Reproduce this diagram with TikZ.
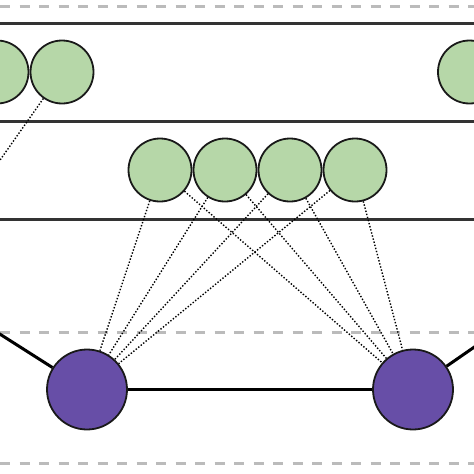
\documentclass[tikz,border=0pt]{standalone}
\usetikzlibrary{calc}
\definecolor{leafgreen}{HTML}{B6D7A8}
\definecolor{rootpurple}{HTML}{674EA7}
\definecolor{dashgray}{HTML}{BBBBBB}
\begin{document}
\begin{tikzpicture}[x=1pt,y=-1pt,
  leaf/.style={circle,draw=black!90,line width=1.8pt,fill=leafgreen,minimum size=63pt,inner sep=0pt},
  root/.style={circle,draw=black!90,line width=1.8pt,fill=rootpurple,minimum size=80pt,inner sep=0pt},
  layer/.style={draw=black!80,line width=3pt},
  sep/.style={draw=dashgray,line width=3pt,dash pattern=on 10pt off 9.5pt},
  link/.style={draw=black,line width=1.4pt,dash pattern=on 1.4pt off 1.8pt},
  edge/.style={draw=black,line width=3pt}]
\useasboundingbox (0,0) rectangle (474,474);
\clip (0,0) rectangle (474,474);
% separators
\coordinate (d1l) at (0,6.3); \coordinate (d1r) at (474,6.3);
\coordinate (d2l) at (0,332.7); \coordinate (d2r) at (474,332.7);
\coordinate (d3l) at (0,463); \coordinate (d3r) at (474,463);
\draw[sep] (d1l) -- (d1r);
\draw[sep] (d2l) -- (d2r);
\draw[sep] (d3l) -- (d3r);
\coordinate (s1l) at (0,23.3); \coordinate (s1r) at (474,23.3);
\coordinate (s2l) at (0,121); \coordinate (s2r) at (474,121);
\coordinate (s3l) at (0,219); \coordinate (s3r) at (474,219);
\draw[layer] (s1l) -- (s1r);
\draw[layer] (s2l) -- (s2r);
\draw[layer] (s3l) -- (s3r);
% top row leaves
\node[leaf] (t1) at (-3,72) {};
\node[leaf] (t2) at (62,72) {};
\node[leaf] (t3) at (469.5,72) {};
% middle row leaves
\node[leaf] (m1) at (160,170) {};
\node[leaf] (m2) at (225,170) {};
\node[leaf] (m3) at (290,170) {};
\node[leaf] (m4) at (355,170) {};
% roots
\node[root] (r1) at (87,389.5) {};
\node[root] (r2) at (413,389.5) {};
% off-picture ends
\coordinate (offa) at (-40,217);
\coordinate (offb) at (-60,296);
\coordinate (offc) at (535,305);
% dotted links
\draw[link] (t2) -- (offa);
\foreach \m in {m1,m2,m3,m4}{
  \draw[link] (\m) -- (r1);
  \draw[link] (\m) -- (r2);
}
% solid edges
\draw[edge] (r1) -- (r2);
\draw[edge] (r1) -- (offb);
\draw[edge] (r2) -- (offc);
\end{tikzpicture}
\end{document}
